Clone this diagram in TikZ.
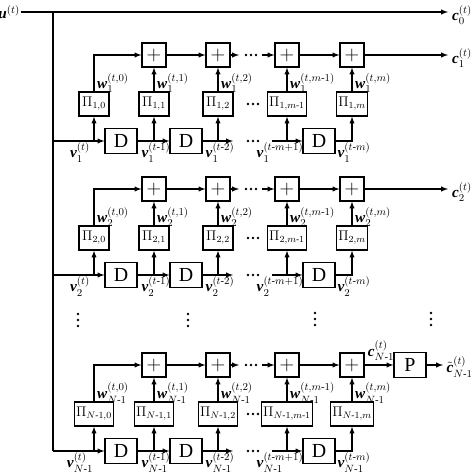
\documentclass[tikz,border=0pt]{standalone}
\usepackage{amsmath}
\usepackage{fontspec}
\setmainfont{Liberation Serif}
\usetikzlibrary{arrows,positioning}
\newcommand{\bv}[1]{\textbf{\textit{#1}}}
\newcommand{\hy}{\text{-}}

\tikzset{
  opbox/.style={draw, minimum width=0.72cm, minimum height=0.72cm, inner sep=0pt, font=\fontsize{17}{17}\selectfont},
  pibox/.style={draw, line width=1.1pt, minimum width=0.9cm, minimum height=0.72cm, inner sep=1.5pt, font=\fontsize{12}{12}\selectfont},
  dbox/.style={draw, minimum width=0.96cm, minimum height=0.75cm, inner sep=0pt, font=\fontsize{17}{17}\selectfont},
  lbl/.style={inner sep=0.5pt, font=\fontsize{13}{13}\selectfont},
  flow/.style={-latex},
}

\begin{document}
\begin{tikzpicture}[x=0.03cm, y=-0.03cm, line width=1pt]
	\useasboundingbox (0,0) rectangle (474,475);
	% input and the uncoded branch
	\node[lbl, anchor=east] (u) at (21,12) {$\bv{u}^{(t)}$};
	\coordinate (top) at (53,12);
	\coordinate (out0) at (448,12);
	\node[lbl, anchor=west] (c0) at (451,15) {$\bv{c}_{0}^{(t)}$};
	\draw[flow] (u.east) -- (out0);
	\coordinate (in3) at (53,451);
	\draw (top) -- (in3);
	%% one encoder per branch
	\foreach \b/\y/\s in {1/0/1, 2/134/2, 3/310/N\hy1} {
		\coordinate (in\b) at (53,{141+\y});
		% the D row
		\node[dbox] (dl\b-1) at (121,{141+\y}) {D};
		\node[dbox] (dl\b-2) at (186,{141+\y}) {D};
		\node[dbox] (dl\b-3) at (319,{141+\y}) {D};
		\coordinate (br\b-0) at (94,{141+\y});
		\coordinate (br\b-1) at (154,{141+\y});
		\coordinate (br\b-2) at (218,{141+\y});
		\coordinate (br\b-3) at (287,{141+\y});
		\coordinate (ds\b) at (233,{141+\y});
		\coordinate (dr\b) at (272,{141+\y});
		% the permutation row
		\node[pibox] (pi\b-0) at (94,{104+\y}) {$\Pi_{\s,0}$};
		\node[pibox] (pi\b-1) at (154,{104+\y}) {$\Pi_{\s,1}$};
		\node[pibox] (pi\b-2) at (218,{104+\y}) {$\Pi_{\s,2}$};
		\node[pibox] (pi\b-3) at (287,{104+\y}) {$\Pi_{\s,m\hy1}$};
		\node[pibox] (pi\b-4) at (352,{104+\y}) {$\Pi_{\s,m}$};
		% the adder row
		\node[opbox] (pl\b-1) at (154,{55+\y}) {$+$};
		\node[opbox] (pl\b-2) at (218,{55+\y}) {$+$};
		\node[opbox] (pl\b-3) at (287,{55+\y}) {$+$};
		\node[opbox] (pl\b-4) at (352,{55+\y}) {$+$};
		\coordinate (as\b) at (239,{55+\y});
		\coordinate (ar\b) at (262,{55+\y});
		% dots between the stages
		\foreach \dx in {-5,0,5} {
			\fill ({251+\dx},{55+\y}) circle (1.1pt);
			\fill ({253+\dx},{104+\y}) circle (1.1pt);
			\fill ({253+\dx},{141+\y}) circle (1.1pt);
		}
		% connections
		\draw[flow] (in\b) -- (dl\b-1);
		\draw[flow] (dl\b-1) -- (dl\b-2);
		\draw[flow] (dl\b-2) -- (ds\b);
		\draw[flow] (dr\b) -- (dl\b-3);
		\draw[flow] (dl\b-3.east) -| (pi\b-4);
		\foreach \j in {0,...,3} {
			\draw[flow] (br\b-\j) -- (pi\b-\j);
		}
		\draw[flow] (pi\b-0) |- (pl\b-1);
		\foreach \j in {1,...,4} {
			\draw[flow] (pi\b-\j) -- (pl\b-\j);
		}
		\draw[flow] (pl\b-1) -- (pl\b-2);
		\draw[flow] (pl\b-2) -- (as\b);
		\draw[flow] (ar\b) -- (pl\b-3);
		\draw[flow] (pl\b-3) -- (pl\b-4);
		%% the labels
		\node[lbl, anchor=west] (w\b-0) at (96,{83+\y}) {$\bv{w}_{\s}^{(t,0)}$};
		\node[lbl, anchor=west] (w\b-1) at (156,{83+\y}) {$\bv{w}_{\s}^{(t,1)}$};
		\node[lbl, anchor=west] (w\b-2) at (220,{83+\y}) {$\bv{w}_{\s}^{(t,2)}$};
		\node[lbl, anchor=west] (w\b-3) at (289,{83+\y}) {$\bv{w}_{\s}^{(t,m\hy1)}$};
		\node[lbl, anchor=west] (w\b-4) at (354,{83+\y}) {$\bv{w}_{\s}^{(t,m)}$};
		\node[lbl, anchor=north, inner sep=0pt] (v\b-0) at (80,{142+\y}) {$\bv{v}_{\s}^{(t)}$};
		\node[lbl, anchor=north, inner sep=0pt] (v\b-1) at (156,{142+\y}) {$\bv{v}_{\s}^{(t\hy1)}$};
		\node[lbl, anchor=north, inner sep=0pt] (v\b-2) at (220,{142+\y}) {$\bv{v}_{\s}^{(t\hy2)}$};
		\node[lbl, anchor=north, inner sep=0pt] (v\b-3) at (280,{142+\y}) {$\bv{v}_{\s}^{(t\hy m+1)}$};
		\node[lbl, anchor=north, inner sep=0pt] (v\b-4) at (354,{142+\y}) {$\bv{v}_{\s}^{(t\hy m)}$};
	}
	% outputs
	\coordinate (out1) at (448,55);
	\coordinate (out2) at (448,189);
	\node[lbl, anchor=west] (c1) at (451,58) {$\bv{c}_{1}^{(t)}$};
	\node[lbl, anchor=west] (c2) at (451,192) {$\bv{c}_{2}^{(t)}$};
	\draw[flow] (pl1-4) -- (out1);
	\draw[flow] (pl2-4) -- (out2);
	\node[dbox] (pb) at (410,365) {P};
	\coordinate (out3) at (443,365);
	\node[lbl, anchor=west, inner sep=0pt] (ct) at (446,367) {$\tilde{\bv{c}}_{N\hy1}^{(t)}$};
	\node[lbl, anchor=south] (c3) at (381,362) {$\bv{c}_{N\hy1}^{(t)}$};
	\draw[flow] (pl3-4) -- (pb);
	\draw[flow] (pb) -- (out3);
	% vertical dots
	\foreach \x/\yy in {78/320, 188/320, 315/319, 431/319} {
		\foreach \dy in {-6,0,6} {
			\fill (\x,{\yy+\dy}) circle (1.1pt);
		}
	}
\end{tikzpicture}
\end{document}
